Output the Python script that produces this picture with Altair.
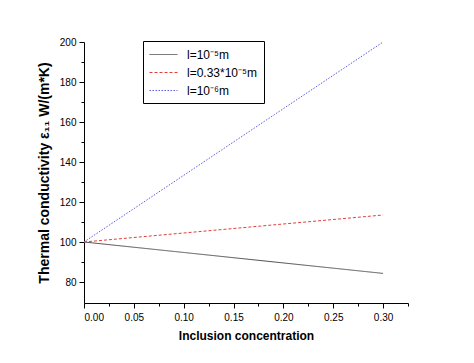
import altair as alt
import pandas as pd

series = ["l=10⁻⁵m", "l=0.33*10⁻⁵m", "l=10⁻⁶m"]
x_vals = [0.0, 0.30]
y_black = [100, 84.3]
y_red = [100, 113.5]
y_blue = [100, 200]
colors = ["#505050", "#e0403c", "#5a5ae6"]
dashes = [[1, 0], [3, 2], [1.5, 1.5]]

x_ticks = [round(i * 0.025, 3) for i in range(14)]
y_ticks = list(range(80, 201, 10))

rows = []
for name, ys in zip(series, [y_black, y_red, y_blue]):
    for xv, yv in zip(x_vals, ys):
        rows.append({"series": name, "x": xv, "y": yv})
df = pd.DataFrame(rows)

font = "Liberation Sans"

chart = alt.Chart(df).mark_line(strokeWidth=1).encode(
    x=alt.X("x:Q", scale=alt.Scale(domain=[0, 0.325], nice=False, zero=False),
            axis=alt.Axis(title="Inclusion concentration", values=x_ticks,
                          labelExpr="round(datum.value*1000) % 50 == 0 ? format(datum.value, '.2f') : ''",
                          tickSize={"condition": {"test": "round(datum.value*1000) % 50 == 0", "value": 5}, "value": 3},
                          grid=False, domainColor="#000", tickColor="#000",
                          labelFont=font, labelFontSize=10, labelColor="#000",
                          titleFont=font, titleFontSize=12, titleFontWeight="bold", titleColor="#000",
                          titlePadding=8, labelPadding=4)),
    y=alt.Y("y:Q", scale=alt.Scale(domain=[69.5, 200], nice=False, zero=False),
            axis=alt.Axis(title="Thermal conductivity ε₁₁ W/(m*K)", values=y_ticks,
                          labelExpr="datum.value % 20 == 0 ? datum.value : ''",
                          tickSize={"condition": {"test": "datum.value % 20 == 0", "value": 5}, "value": 3},
                          grid=False, domainColor="#000", tickColor="#000",
                          labelFont=font, labelFontSize=10, labelColor="#000",
                          titleFont=font, titleFontSize=14, titleFontWeight="bold", titleColor="#000",
                          titlePadding=8, labelPadding=3)),
    color=alt.Color("series:N", sort=series,
                    scale=alt.Scale(domain=series, range=colors),
                    legend=alt.Legend(title=None, orient="none", legendX=59, legendY=-1,
                                      symbolType="M-2,0H2", symbolSize=196, symbolStrokeWidth=1,
                                      symbolOffset=7, labelOffset=16,
                                      labelFont=font, labelFontSize=12, labelColor="#000",
                                      strokeColor="#000", padding=6, rowPadding=4,
                                      labelLimit=200)),
    strokeDash=alt.StrokeDash("series:N", sort=series,
                              scale=alt.Scale(domain=series, range=dashes), legend=None),
).properties(
    width=324, height=261,
    padding={"left": 76, "top": 34, "right": 50, "bottom": 50},
    autosize=alt.AutoSizeParams(type="none"),
).configure_view(stroke=None)

chart.save("out.html", embed_options={"renderer": "svg", "actions": False})
